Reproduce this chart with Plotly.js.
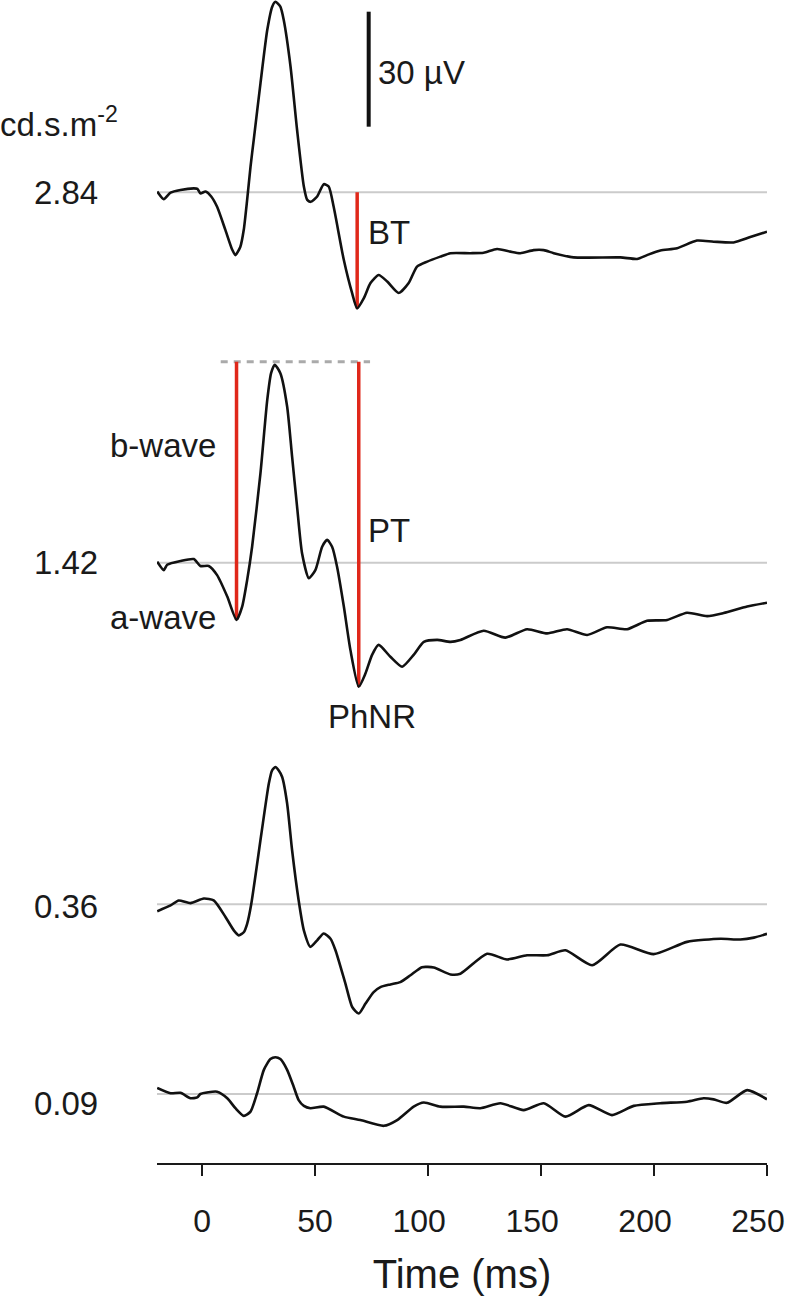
<!DOCTYPE html>
<html>
<head>
<meta charset="utf-8">
<script src="https://cdn.plot.ly/plotly-3.0.1.min.js"></script>
<style>
html,body{margin:0;padding:0;background:#fff;}
#chart{width:785px;height:1296px;}
</style>
</head>
<body>
<div id="chart"></div>
<script>
// ---------------- data ----------------
const intensityLabels = ['2.84', '1.42', '0.36', '0.09'];
const unitLabel = 'cd.s.m<sup>-2</sup>';
const xTicks = [0, 50, 100, 150, 200, 250];
const scaleBarMicroV = 30;

// 2.84 cd.s.m-2 : time (ms), amplitude (µV)
const time1 = [-19.9,-17.0,-14.0,-9.6,-3.7,-2.1,-0.8,1.5,4.0,6.6,10.3,13.3,14.7,16.9,18.4,19.9,21.4,22.8,25.8,28.8,31.0,32.4,34.6,36.1,39.1,42.0,45.0,46.5,48.0,50.9,53.8,56.0,58.2,62.7,66.4,68.6,71.5,74.5,78.1,81.9,87.0,91.4,95.1,99.6,105.4,109.9,118.7,124.6,130.5,136.4,140.8,146.7,151.2,155.6,164.4,185.1,192.5,196.9,202.8,210.2,219.0,226.4,235.2,242.6,250];
const amp1  = [0.2,-1.8,-0.1,0.6,1.0,0.9,-0.3,0.2,-1.1,-3.8,-9.9,-15.0,-16.4,-14.2,-9.8,-2.0,6.7,13.6,28.4,42.3,48.4,49.7,48.4,44.9,32.8,16.3,1.5,-2.0,-2.5,-1.1,2.1,1.5,-3.8,-17.7,-26.4,-30.3,-27.7,-23.7,-21.6,-23.3,-26.3,-23.7,-19.4,-18.1,-16.8,-15.9,-15.9,-15.8,-14.8,-15.5,-15.9,-15.1,-15.1,-15.9,-17.0,-17.0,-17.4,-16.4,-15.2,-14.6,-12.6,-12.9,-13.1,-11.7,-10.3];

// 1.42 cd.s.m-2
const time2 = [-19.9,-17.0,-15.5,-9.6,-3.7,-0.8,2.9,6.6,11.1,15.2,17.7,19.9,22.1,25.8,28.8,30.5,32.1,34.6,37.6,39.8,42.0,44.2,47.2,50.1,53.1,55.3,57.5,59.7,62.7,65.6,69.3,72.3,75.2,78.1,83.3,88.5,93.6,98.1,104.0,109.9,114.3,124.6,134.2,143.8,152.7,161.5,170.4,179.2,188.1,196.9,205.8,214.6,223.5,230.8,241.2,250];
const amp2  = [0.3,-1.9,-0.5,0.5,1.0,-0.8,-0.8,-3.2,-8.8,-14.9,-11.4,-4.5,4.2,23.4,42.5,49.5,51.7,49.5,40.8,27.7,14.7,2.5,-4.0,-1.9,4.2,6.0,4.2,-1.0,-11.4,-22.7,-32.3,-28.8,-24.0,-21.4,-24.5,-27.1,-24.0,-20.6,-20.1,-20.6,-20.1,-17.7,-19.5,-17.3,-18.4,-17.3,-18.8,-16.8,-17.3,-15.1,-14.9,-13.0,-13.9,-13.1,-11.4,-10.4];

// 0.36 cd.s.m-2
const time3 = [-19.9,-14.0,-10.4,-5.2,0.7,5.1,10.3,14.0,16.2,18.4,19.9,21.7,26.2,29.5,30.9,32.4,33.9,35.4,37.6,39.8,42.7,45.0,47.9,50.9,53.8,56.8,59.0,63.4,66.4,69.3,72.3,75.9,78.9,83.3,87.7,92.2,97.3,102.5,109.9,114.3,126.1,134.9,143.8,152.7,160.8,172.6,185.1,199.8,214.6,229.4,238.2,244.2,250];
const amp3  = [-1.8,-0.3,1.0,0.3,1.5,1.0,-3.3,-6.8,-8.1,-7.3,-5.1,0.0,18.4,31.5,34.9,35.8,34.9,33.2,26.3,14.1,1.0,-6.8,-11.1,-9.4,-7.6,-9.0,-12.0,-20.7,-26.8,-28.5,-25.9,-22.9,-21.6,-20.9,-20.3,-18.5,-16.4,-16.5,-18.3,-18.1,-12.9,-14.4,-13.3,-13.3,-12.0,-15.9,-10.5,-13.0,-9.8,-9.0,-9.2,-8.7,-7.7];

// 0.09 cd.s.m-2
const time4 = [-19.9,-14.0,-9.6,-5.2,-2.2,-0.8,6.6,11.1,14.7,18.4,21.4,24.3,27.3,30.2,32.4,34.6,37.6,40.5,42.7,45.0,47.9,53.8,62.7,70.0,80.4,86.3,93.6,98.1,105.4,115.8,123.1,132.0,142.3,151.2,160.8,171.1,181.4,191.0,202.8,214.6,221.9,226.4,232.3,241.2,250];
const amp4  = [1.6,0.2,0.3,-1.1,-0.9,0.0,0.6,-1.1,-3.7,-5.7,-4.6,0.2,6.3,9.1,9.6,9.1,6.3,1.9,-1.6,-3.1,-3.7,-3.3,-5.9,-6.8,-8.3,-6.8,-3.3,-2.2,-3.3,-3.3,-3.7,-2.4,-4.2,-2.4,-5.9,-2.9,-5.5,-3.1,-2.4,-2.0,-1.1,-1.4,-2.3,1.0,-1.4];

// ---------------- layout (positions / styles) ----------------
const times = [time1, time2, time3, time4];
const amps = [amp1, amp2, amp3, amp4];
const offsets = [253.25, 156.56, 67.49, 18.0];      // stacking offset of each record (µV)
const labelY = [253.3, 156.6, 66.8, 15.65];         // y of intensity labels
const FONT = 'Liberation Sans, Arial, Helvetica, sans-serif';
const INK = '#1a1a1a';
const RED = '#e0281a';
const NB = '\u00a0';

const traces = [];
const shapes = [];

// baselines
offsets.forEach(off => {
  shapes.push({type:'line', xref:'x', yref:'y', x0:-20, x1:250, y0:off, y1:off,
    line:{color:'#cbcbcb', width:2}, layer:'below'});
});

function argExt(t, a, cmp, lo, hi) {
  let best = -1;
  for (let i = 0; i < a.length; i++) {
    if (t[i] < lo || t[i] > hi) continue;
    if (best < 0 || cmp(a[i], a[best])) best = i;
  }
  return best;
}
const less = (p, q) => p < q, more = (p, q) => p > q;

// marker lines derived from the data
const iBT = argExt(time1, amp1, less, -Infinity, Infinity);
const iA = argExt(time2, amp2, less, -Infinity, 25);
const iB = argExt(time2, amp2, more, -Infinity, Infinity);
const iP = argExt(time2, amp2, less, -Infinity, Infinity);
const topLevel = offsets[1] + amp2[iB] + 0.8;

traces.push({x:[time2[iA] - 7, time2[iP] + 5], y:[topLevel, topLevel], mode:'lines',
  line:{color:'#aaaaaa', width:3, dash:'7px,6px'}, hoverinfo:'skip'});
traces.push({x:[time1[iBT], time1[iBT]], y:[offsets[0], offsets[0] + amp1[iBT]], mode:'lines',
  line:{color:RED, width:3.5}, hoverinfo:'skip'});
traces.push({x:[time2[iA], time2[iA]], y:[offsets[1] + amp2[iA], topLevel], mode:'lines',
  line:{color:RED, width:3.5}, hoverinfo:'skip'});
traces.push({x:[time2[iP], time2[iP]], y:[offsets[1] + amp2[iP], topLevel], mode:'lines',
  line:{color:RED, width:3.5}, hoverinfo:'skip'});

// waveforms
times.forEach((t, k) => {
  traces.push({x:t, y:amps[k].map(v => v + offsets[k]), mode:'lines',
    line:{color:'#111111', width:2.6, shape:'spline', smoothing:0.6},
    name:intensityLabels[k], hoverinfo:'skip'});
});

// scale bar
const barX = 73.7, barBottom = offsets[0] + 17.1;
traces.push({x:[barX, barX], y:[barBottom, barBottom + scaleBarMicroV], mode:'lines',
  line:{color:'#111111', width:4}, hoverinfo:'skip'});

const annFont = {family:FONT, size:33, color:INK};
const annotations = [];
function ann(text, x, y, xanchor, xref) {
  annotations.push({text:text, x:x, y:y, xref:xref || 'x', yref:'y', xanchor:xanchor, yanchor:'middle',
    showarrow:false, font:annFont, borderpad:0, borderwidth:0});
}
// paper x: pixel -> fraction of plot width (plot spans 157..767 px)
const px2paper = p => (p - 157) / 610;
ann(unitLabel, px2paper(0), 271.6, 'left', 'paper');
intensityLabels.forEach((lab, k) => ann(lab, px2paper(98), labelY[k], 'right', 'paper'));
ann(scaleBarMicroV + ' µV', 78.0, 284.6, 'left');
ann('BT', 73.6, 242.8, 'left');
ann('PT', 73.6, 165.1, 'left');
ann('b-wave', 5.9, 187.3, 'right');
ann('a-wave', 5.9, 142.2, 'right');
ann('PhNR', 75.3, 116.4, 'center');

const layout = {
  width:785, height:1296,
  margin:{l:157, r:18, t:0, b:133},
  paper_bgcolor:'#ffffff', plot_bgcolor:'#ffffff',
  showlegend:false,
  font:{family:FONT, color:INK},
  xaxis:{
    range:[-20, 250], showgrid:false, zeroline:false,
    showline:true, linecolor:INK, linewidth:2,
    ticks:'outside', ticklen:11, tickwidth:2, tickcolor:INK,
    tickvals:xTicks,
    ticktext:xTicks.map(v => v < 100 ? NB + NB + String(v) : String(v)),
    tickfont:{family:FONT, size:32, color:INK},
    ticklabelstandoff:18, ticklabelshift:-9,
    title:{text:'Time (ms)', font:{family:FONT, size:40, color:INK}, standoff:30},
    automargin:false, fixedrange:true
  },
  yaxis:{range:[0, 303.4], visible:false, fixedrange:true},
  shapes:shapes,
  annotations:annotations
};

Plotly.newPlot('chart', traces, layout, {staticPlot:true, displayModeBar:false});
</script>
</body>
</html>
